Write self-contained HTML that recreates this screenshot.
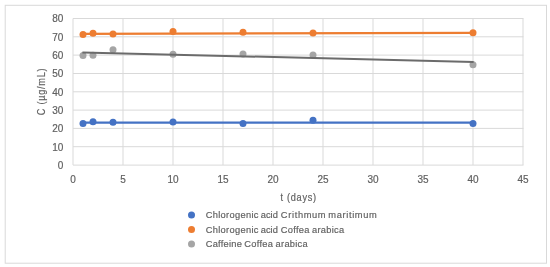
<!DOCTYPE html>
<html><head><meta charset="utf-8"><style>
html,body{margin:0;padding:0;background:#fff;width:550px;height:267px;overflow:hidden}
svg{display:block}
text{font-family:"Liberation Sans",sans-serif;fill:#606060;stroke:#606060;stroke-width:0.18px}
</style></head><body>
<svg width="550" height="267" viewBox="0 0 550 267">
<rect x="0" y="0" width="550" height="267" fill="#fff"/>
<rect x="5.2" y="5.3" width="541.3" height="257.9" fill="#fff" stroke="#d9d9d9" stroke-width="1"/>
<g stroke="#d9d9d9" stroke-width="1" fill="none"><path d="M73 165.1H523.5M73 146.7H523.5M73 128.4H523.5M73 110.1H523.5M73 91.8H523.5M73 73.5H523.5M73 55.1H523.5M73 36.8H523.5M73 18.5H523.5"/><path d="M73.0 18.5V165.1M123.0 18.5V165.1M173.0 18.5V165.1M223.0 18.5V165.1M273.0 18.5V165.1M323.0 18.5V165.1M373.0 18.5V165.1M423.0 18.5V165.1M473.0 18.5V165.1M523.0 18.5V165.1"/></g>
<g font-size="10" text-anchor="end">
<text x="63.3" y="22.4">80</text>
<text x="63.3" y="40.7">70</text>
<text x="63.3" y="59.0">60</text>
<text x="63.3" y="77.4">50</text>
<text x="63.3" y="95.7">40</text>
<text x="63.3" y="114.0">30</text>
<text x="63.3" y="132.3">20</text>
<text x="63.3" y="150.6">10</text>
<text x="63.3" y="169.0">0</text>
</g>
<g font-size="10" text-anchor="middle">
<text x="73.1" y="183.1">0</text>
<text x="123.1" y="183.1">5</text>
<text x="173.1" y="183.1">10</text>
<text x="223.1" y="183.1">15</text>
<text x="273.1" y="183.1">20</text>
<text x="323.1" y="183.1">25</text>
<text x="373.1" y="183.1">30</text>
<text x="423.1" y="183.1">35</text>
<text x="473.1" y="183.1">40</text>
<text x="523.1" y="183.1">45</text>
</g>
<text transform="translate(280.4 200.9) scale(0.92 1)" font-size="10" textLength="38.9" lengthAdjust="spacing">t (days)</text>
<text transform="translate(44.6 115.2) rotate(-90) scale(0.92 1)" font-size="10" textLength="50.9" lengthAdjust="spacing">C (µg/mL)</text>
<g fill="#4472c4"><circle cx="83.0" cy="123.4" r="3.5"/><circle cx="93.0" cy="121.8" r="3.5"/><circle cx="113.0" cy="122.2" r="3.5"/><circle cx="173.0" cy="122.1" r="3.5"/><circle cx="243.0" cy="123.5" r="3.5"/><circle cx="313.0" cy="120.2" r="3.5"/><circle cx="473.0" cy="123.4" r="3.5"/></g>
<path d="M82.4 122.7H473.6" stroke="#4472c4" stroke-width="2.2" fill="none"/>
<g fill="#ed7d31"><circle cx="83.0" cy="34.6" r="3.5"/><circle cx="93.0" cy="33.3" r="3.5"/><circle cx="113.0" cy="34.1" r="3.5"/><circle cx="173.0" cy="31.4" r="3.5"/><circle cx="243.0" cy="32.2" r="3.5"/><circle cx="313.0" cy="32.9" r="3.5"/><circle cx="473.0" cy="32.8" r="3.5"/></g>
<path d="M82.4 33.8L473.6 32.8" stroke="#ed7d31" stroke-width="2.2" fill="none"/>
<g fill="#a5a5a5"><circle cx="83.0" cy="55.4" r="3.5"/><circle cx="93.0" cy="55.3" r="3.5"/><circle cx="113.0" cy="49.8" r="3.5"/><circle cx="173.0" cy="54.2" r="3.5"/><circle cx="243.0" cy="53.9" r="3.5"/><circle cx="313.0" cy="55.0" r="3.5"/><circle cx="473.0" cy="64.8" r="3.5"/></g>
<path d="M82.4 52.5L473.6 61.9" stroke="#6b6b6b" stroke-width="2" fill="none"/>
<circle cx="191.5" cy="215.1" r="3.5" fill="#4472c4"/>
<circle cx="191.5" cy="229.6" r="3.5" fill="#ed7d31"/>
<circle cx="191.5" cy="243.9" r="3.5" fill="#a5a5a5"/>
<g font-size="9.8">
<text transform="translate(205.73 218.0) scale(0.95 1)" textLength="55.54" lengthAdjust="spacing">Chlorogenic</text>
<text transform="translate(260.71 218.0) scale(0.95 1)" textLength="18.08" lengthAdjust="spacing">acid</text>
<text transform="translate(280.86 218.0) scale(0.95 1)" textLength="47.13" lengthAdjust="spacing">Crithmum</text>
<text transform="translate(328.33 218.0) scale(0.95 1)" textLength="51.04" lengthAdjust="spacing">maritimum</text>
<text transform="translate(205.73 232.5) scale(0.95 1)" textLength="55.54" lengthAdjust="spacing">Chlorogenic</text>
<text transform="translate(260.71 232.5) scale(0.95 1)" textLength="18.08" lengthAdjust="spacing">acid</text>
<text transform="translate(280.86 232.5) scale(0.95 1)" textLength="29.96" lengthAdjust="spacing">Coffea</text>
<text transform="translate(311.96 232.5) scale(0.95 1)" textLength="33.98" lengthAdjust="spacing">arabica</text>
<text transform="translate(205.73 246.9) scale(0.95 1)" textLength="37.97" lengthAdjust="spacing">Caffeine</text>
<text transform="translate(244.28 246.9) scale(0.95 1)" textLength="30.13" lengthAdjust="spacing">Coffea</text>
<text transform="translate(275.60 246.9) scale(0.95 1)" textLength="33.77" lengthAdjust="spacing">arabica</text>
</g>
</svg>
</body></html>
